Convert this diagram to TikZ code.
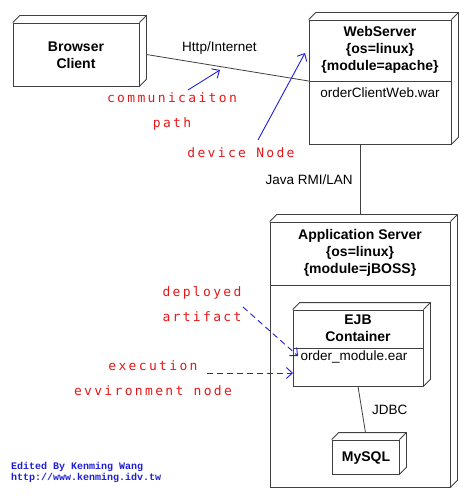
\documentclass[tikz,border=0pt]{standalone}
\usepackage{fontspec}
\setmainfont{Liberation Sans}
\newfontfamily\handfont[LetterSpace=18]{DejaVu Sans Mono}
\newfontfamily\footfont{Liberation Mono}
\usetikzlibrary{arrows.meta}
\definecolor{notered}{RGB}{228,24,24}
\definecolor{noteblue}{RGB}{30,30,215}

\newcommand{\boxdepth}[1]{%
  \draw[edge] (#1.north west) -- ++(7,-7) -- ([shift={(7,-7)}]#1.north east) -- ([shift={(7,-7)}]#1.south east) -- (#1.south east);
  \draw[edge] (#1.north east) -- ++(7,-7);}

\begin{document}
\begin{tikzpicture}[x=1pt,y=-1pt,
    edge/.style={draw=black!75,line width=0.8pt},
    devbox/.style={edge,rectangle,inner sep=0pt},
    title/.style={font=\fontsize{14}{17}\selectfont\bfseries,align=center,inner sep=0pt},
    item/.style={font=\fontsize{13.5}{17}\selectfont,inner sep=0pt},
    hand/.style={font=\fontsize{13}{25}\selectfont\handfont,text=notered,align=center,inner sep=0pt},
    note/.style={noteblue,line width=0.9pt,-{Straight Barb[length=6pt,width=11pt]}},
    notedash/.style={note,dash pattern=on 6pt off 4pt}]
    \useasboundingbox (0,0) rectangle (474,502);

    \node[devbox,minimum width=126,minimum height=63] (bc) at (76,54.5) {};
    \node[devbox,minimum width=142,minimum height=124] (ws) at (380,82) {};
    \node[devbox,minimum width=180,minimum height=265] (as) at (360,354.5) {};
    \node[devbox,minimum width=130,minimum height=76] (ejb) at (358,348) {};
    \node[devbox,minimum width=67,minimum height=34] (db) at (365.5,457) {};
    \foreach \b in {bc,ws,as,ejb,db} {\boxdepth{\b}}

    \draw[edge] (ws.west |- 0,81) coordinate (wsdiv) -- (ws.east |- 0,81);
    \draw[edge] (as.west |- 0,285) -- (as.east |- 0,285);
    \draw[edge] (ejb.west |- 0,348) -- (ejb.east |- 0,348);

    \node[title] (bct) at (76,55) {Browser\\Client};
    \node[title] (wst) at (380,50) {WebServer\\\{os=linux\}\\\{module=apache\}};
    \node[item] (war) at (380,93) {orderClientWeb.war};
    \node[title] (ast) at (360,253) {Application Server\\\{os=linux\}\\\{module=jBOSS\}};
    \node[title] (ejbt) at (358,328) {EJB\\Container};
    \node[item] (ear) at (354,357) {order\_module.ear};
    \node[title] (dbt) at (366,458) {MySQL};

    \draw[edge] ([xshift=7pt]bc.east) -- (wsdiv) node[item,pos=0.45,above=12pt] (http) {Http/Internet};
    \draw[edge] (ws.south -| as.north) -- ([yshift=7pt]as.north) node[item,midway,left=7pt] (rmi) {Java RMI/LAN};
    \draw[edge] (ejb.south) -- ([yshift=7pt]db.north) node[item,midway,right=10pt] (jdbc) {JDBC};

    \node[hand] (cp) at (172,111) {communicaiton\\path};
    \node[hand] (dn) at (241,153) {device Node};
    \node[hand] (da) at (202,304.5) {deployed\\artifact};
    \node[hand] (en) at (153,378.5) {execution\\evvironment node};

    \coordinate (cpa) at (188,90);
    \coordinate (cpb) at (220,70);
    \coordinate (dna) at (258,140);
    \coordinate (dnb) at (305,53);
    \coordinate (daa) at (243,307);
    \coordinate (dab) at (298,356);
    \coordinate (ena) at (207,373);
    \coordinate (enb) at (293,373);
    \draw[note] (cpa) -- (cpb);
    \draw[note] (dna) -- (dnb);
    \draw[notedash] (daa) -- (dab);
    \draw[notedash] (ena) -- (enb);

    \node[font=\fontsize{10}{11}\selectfont\footfont\bfseries,text=noteblue,align=left,anchor=west,inner sep=0pt] (ed) at (11,472.5) {Edited By Kenming Wang\\http://www.kenming.idv.tw};
\end{tikzpicture}
\end{document}
